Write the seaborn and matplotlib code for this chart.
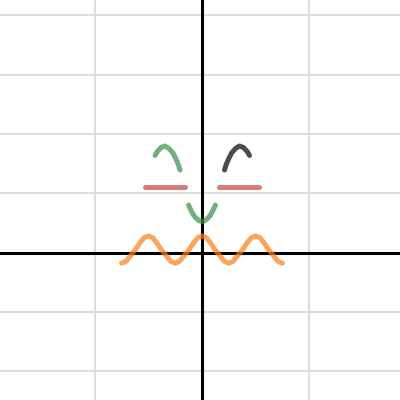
import matplotlib
matplotlib.use("Agg")
import matplotlib.pyplot as plt
import pandas as pd
import seaborn as sns

# mouth: orange wave
mouth_x = [-0.75, -0.71, -0.67, -0.62, -0.58, -0.54, -0.50, -0.46, -0.42, -0.38,
           -0.33, -0.29, -0.25, -0.21, -0.17, -0.12, -0.08, -0.04, 0.00, 0.04,
           0.08, 0.12, 0.17, 0.21, 0.25, 0.29, 0.33, 0.38, 0.42, 0.46,
           0.50, 0.54, 0.58, 0.62, 0.67, 0.71, 0.75]
mouth_y = [-0.18, -0.15, -0.06, 0.05, 0.16, 0.25, 0.28, 0.25, 0.16, 0.05,
           -0.06, -0.15, -0.18, -0.15, -0.06, 0.05, 0.16, 0.25, 0.28, 0.25,
           0.16, 0.05, -0.06, -0.15, -0.18, -0.15, -0.06, 0.05, 0.16, 0.25,
           0.28, 0.25, 0.16, 0.05, -0.06, -0.15, -0.18]

# nose: green V
nose_x = [-0.125, -0.10, -0.075, -0.05, -0.025, 0.0, 0.025, 0.05, 0.075, 0.10, 0.125]
nose_y = [0.80, 0.70, 0.62, 0.57, 0.535, 0.523, 0.535, 0.57, 0.62, 0.70, 0.80]

# left brow: green arch
lbrow_x = [-0.438, -0.420, -0.382, -0.345, -0.308, -0.271, -0.243, -0.219, -0.205]
lbrow_y = [1.636, 1.695, 1.771, 1.796, 1.754, 1.678, 1.577, 1.476, 1.391]

# right brow: dark arch
rbrow_x = [0.210, 0.224, 0.248, 0.276, 0.313, 0.350, 0.387, 0.425, 0.443]
rbrow_y = [1.391, 1.476, 1.577, 1.678, 1.754, 1.796, 1.771, 1.695, 1.636]

# eyes: red flat lines
leye_x = [-0.536, -0.163]
reye_x = [0.163, 0.536]
eye_y = [1.105, 1.105]

x_grid = [-1, 0, 1]
y_grid = [-2, -1, 0, 1, 2, 3, 4]

sns.set_style("white")
fig = plt.figure(figsize=(4, 4), dpi=100)
ax = fig.add_axes([0, 0, 1, 1])

ax.set_xticks(x_grid)
ax.set_yticks(y_grid)
ax.grid(True, color="#dadada", linewidth=1.3)
ax.tick_params(length=0, labelbottom=False, labelleft=False)
for s in ax.spines.values():
    s.set_visible(False)
ax.axhline(0, color="black", linewidth=2.2, zorder=2)
ax.axvline(0, color="black", linewidth=2.2, zorder=2)

curves = [
    (mouth_x, mouth_y, "#fa7e19"),
    (nose_x, nose_y, "#388c46"),
    (lbrow_x, lbrow_y, "#388c46"),
    (rbrow_x, rbrow_y, "#000000"),
    (leye_x, eye_y, "#c74440"),
    (reye_x, eye_y, "#c74440"),
]
for xs, ys, col in curves:
    df = pd.DataFrame({"x": xs, "y": ys})
    sns.lineplot(data=df, x="x", y="y", sort=False, color=col, alpha=0.7,
                 linewidth=3.6, solid_capstyle="round", solid_joinstyle="round",
                 ax=ax, zorder=3)

ax.set_xlim(-1.884, 1.847)
ax.set_ylim(-2.487, 4.258)
ax.set_xlabel("")
ax.set_ylabel("")

fig.savefig("out.png", dpi=100)
